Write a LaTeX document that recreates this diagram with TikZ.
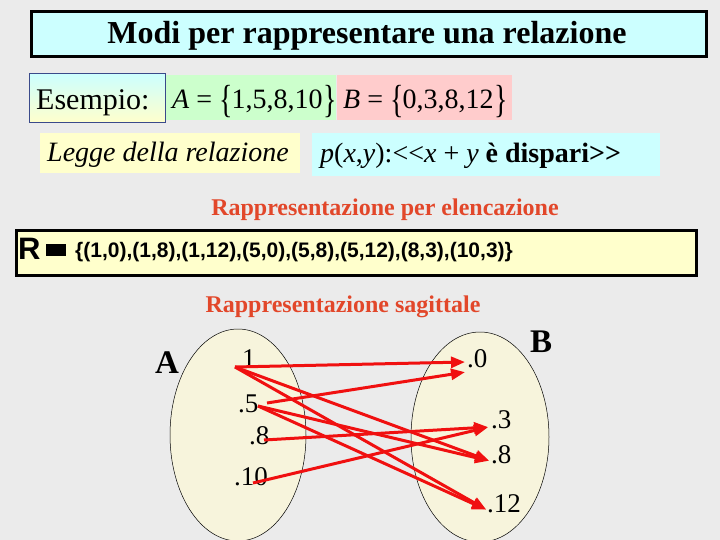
\documentclass[tikz,border=0pt]{standalone}
\usepackage{fontspec}
\setmainfont{Liberation Serif}
\setsansfont{Liberation Sans}
\usetikzlibrary{arrows.meta}
\definecolor{bg}{HTML}{EBEBEB}
\definecolor{cyanbox}{HTML}{CCFFFF}
\definecolor{yelbox}{HTML}{FFFFCC}
\definecolor{grnbox}{HTML}{CCFFCC}
\definecolor{pinkbox}{HTML}{FFCCCC}
\definecolor{ttlred}{HTML}{E2472A}
\definecolor{arrred}{HTML}{F01010}
\definecolor{ellfill}{HTML}{F7F4DC}
\definecolor{bluebord}{HTML}{3A4A8A}
\tikzset{
  ttl/.style={font=\fontsize{24}{28}\selectfont\bfseries, text=ttlred, anchor=base},
  elt/.style={font=\fontsize{27}{32}\selectfont, anchor=base west, inner sep=0},
  setname/.style={font=\fontsize{33}{36}\selectfont\bfseries, anchor=base west, inner sep=0},
  rel/.style={draw=arrred, line width=3pt, -{Triangle[length=14pt,width=11pt]}, shorten >=1pt},
  ell/.style={draw=black, line width=0.5pt, fill=ellfill}
}
\newcommand{\bigbr}[1]{\raisebox{-0.14em}{\scalebox{1}[1.4]{#1}}}
\begin{document}
\begin{tikzpicture}[x=1pt,y=-1pt]
\fill[bg] (0,0) rectangle (720,540);
\useasboundingbox (0,0) rectangle (720,540);
% title
\node[draw=black, line width=3pt, fill=cyanbox, minimum width=675pt, minimum height=45pt, anchor=north west, inner sep=0] (title) at (30,10) {};
\node[font=\fontsize{32}{36}\selectfont\bfseries, anchor=base] (titletxt) at (367,44) {Modi per rappresentare una relazione};
% Esempio
\node[draw=bluebord, line width=0.8pt, top color=cyanbox, bottom color=yelbox, minimum width=136pt, minimum height=49pt, anchor=north west, inner sep=0] (esbox) at (29,73) {};
\node[font=\fontsize{30}{34}\selectfont, anchor=base west, inner sep=0] (estxt) at (36,110) {Esempio:};
\node[fill=grnbox, minimum width=170pt, minimum height=45pt, anchor=north west, inner sep=0] (abox) at (166,75) {};
\node[font=\fontsize{28}{32}\selectfont, anchor=base west, inner sep=0] (atxt) at (172,109) {\textit{A} = \bigbr{\{}\kern-1pt1,5,8,10\kern1pt\bigbr{\}}};
\node[fill=pinkbox, minimum width=175pt, minimum height=45pt, anchor=north west, inner sep=0] (bbox) at (337,75) {};
\node[font=\fontsize{28}{32}\selectfont, anchor=base west, inner sep=0] (btxt) at (343,109) {\textit{B} = \bigbr{\{}\kern-1pt0,3,8,12\kern1pt\bigbr{\}}};
% law
\node[fill=yelbox, minimum width=260pt, minimum height=40pt, anchor=north west, inner sep=0] (lawbox) at (40,133) {};
\node[font=\fontsize{28}{32}\selectfont\itshape, anchor=base west, inner sep=0] (lawtxt) at (47,162) {Legge della relazione};
\node[fill=cyanbox, minimum width=348pt, minimum height=43pt, anchor=north west, inner sep=0] (pbox) at (312,133) {};
\node[font=\fontsize{28}{30}\selectfont, anchor=base west, inner sep=0] (ptxt) at (320,163) {\textit{p}(\textit{x},\textit{y}):{<}{<}\textit{x} + \textit{y} \textbf{è dispari{>}{>}}};
% elencazione
\node[ttl] (el) at (385,215) {Rappresentazione per elencazione};
\node[draw=black, line width=3pt, fill=yelbox, minimum width=680pt, minimum height=45pt, anchor=north west, inner sep=0] (rbox) at (15,229) {};
\node[font=\sffamily\bfseries\fontsize{31}{32}\selectfont, anchor=base west, inner sep=0] (rname) at (18,259) {R};
\node[fill=black, minimum width=20pt, minimum height=12pt, inner sep=0, anchor=center] (req) at (56,249.5) {};
\node[font=\sffamily\bfseries\fontsize{21}{24}\selectfont, anchor=base west, inner sep=0] (rtxt) at (75,258) {\{(1,0),(1,8),(1,12),(5,0),(5,8),(5,12),(8,3),(10,3)\}};
% sagittale
\node[ttl] (sg) at (343,312) {Rappresentazione sagittale};
\draw[ell] (238,435) ellipse [x radius=68, y radius=106];
\draw[ell] (480,437) ellipse [x radius=69, y radius=105];
\node[setname] (A) at (155,373) {A};
\node[setname] (B) at (530,352) {B};
\node[elt] (e1) at (242,367) {1};
\node[elt] (e5) at (238,412) {.5};
\node[elt] (e8) at (249,444) {.8};
\node[elt] (e10) at (234,485) {.10};
\node[elt] (f0) at (467,367) {.0};
\node[elt] (f3) at (491,428) {.3};
\node[elt] (f8) at (491,463) {.8};
\node[elt] (f12) at (487,512) {.12};
\coordinate (s1) at (235,367);
\coordinate (s5) at (258,406);
\coordinate (s5b) at (267,403);
\coordinate (s8) at (264,440);
\coordinate (s10) at (253,483);
\coordinate (t0) at (466,362);
\coordinate (t0b) at (466,372);
\coordinate (t3) at (489,427);
\coordinate (t8) at (490,461);
\coordinate (t12) at (487,510);
\draw[rel] (s1) -- (t0);
\draw[rel] (s1) -- (t8);
\draw[rel] (s1) -- (t12);
\draw[rel] (s5b) -- (t0b);
\draw[rel] (s5) -- (t8);
\draw[rel] (s5) -- (t12);
\draw[rel] (s8) -- (t3);
\draw[rel] (s10) -- (t3);
\end{tikzpicture}
\end{document}
